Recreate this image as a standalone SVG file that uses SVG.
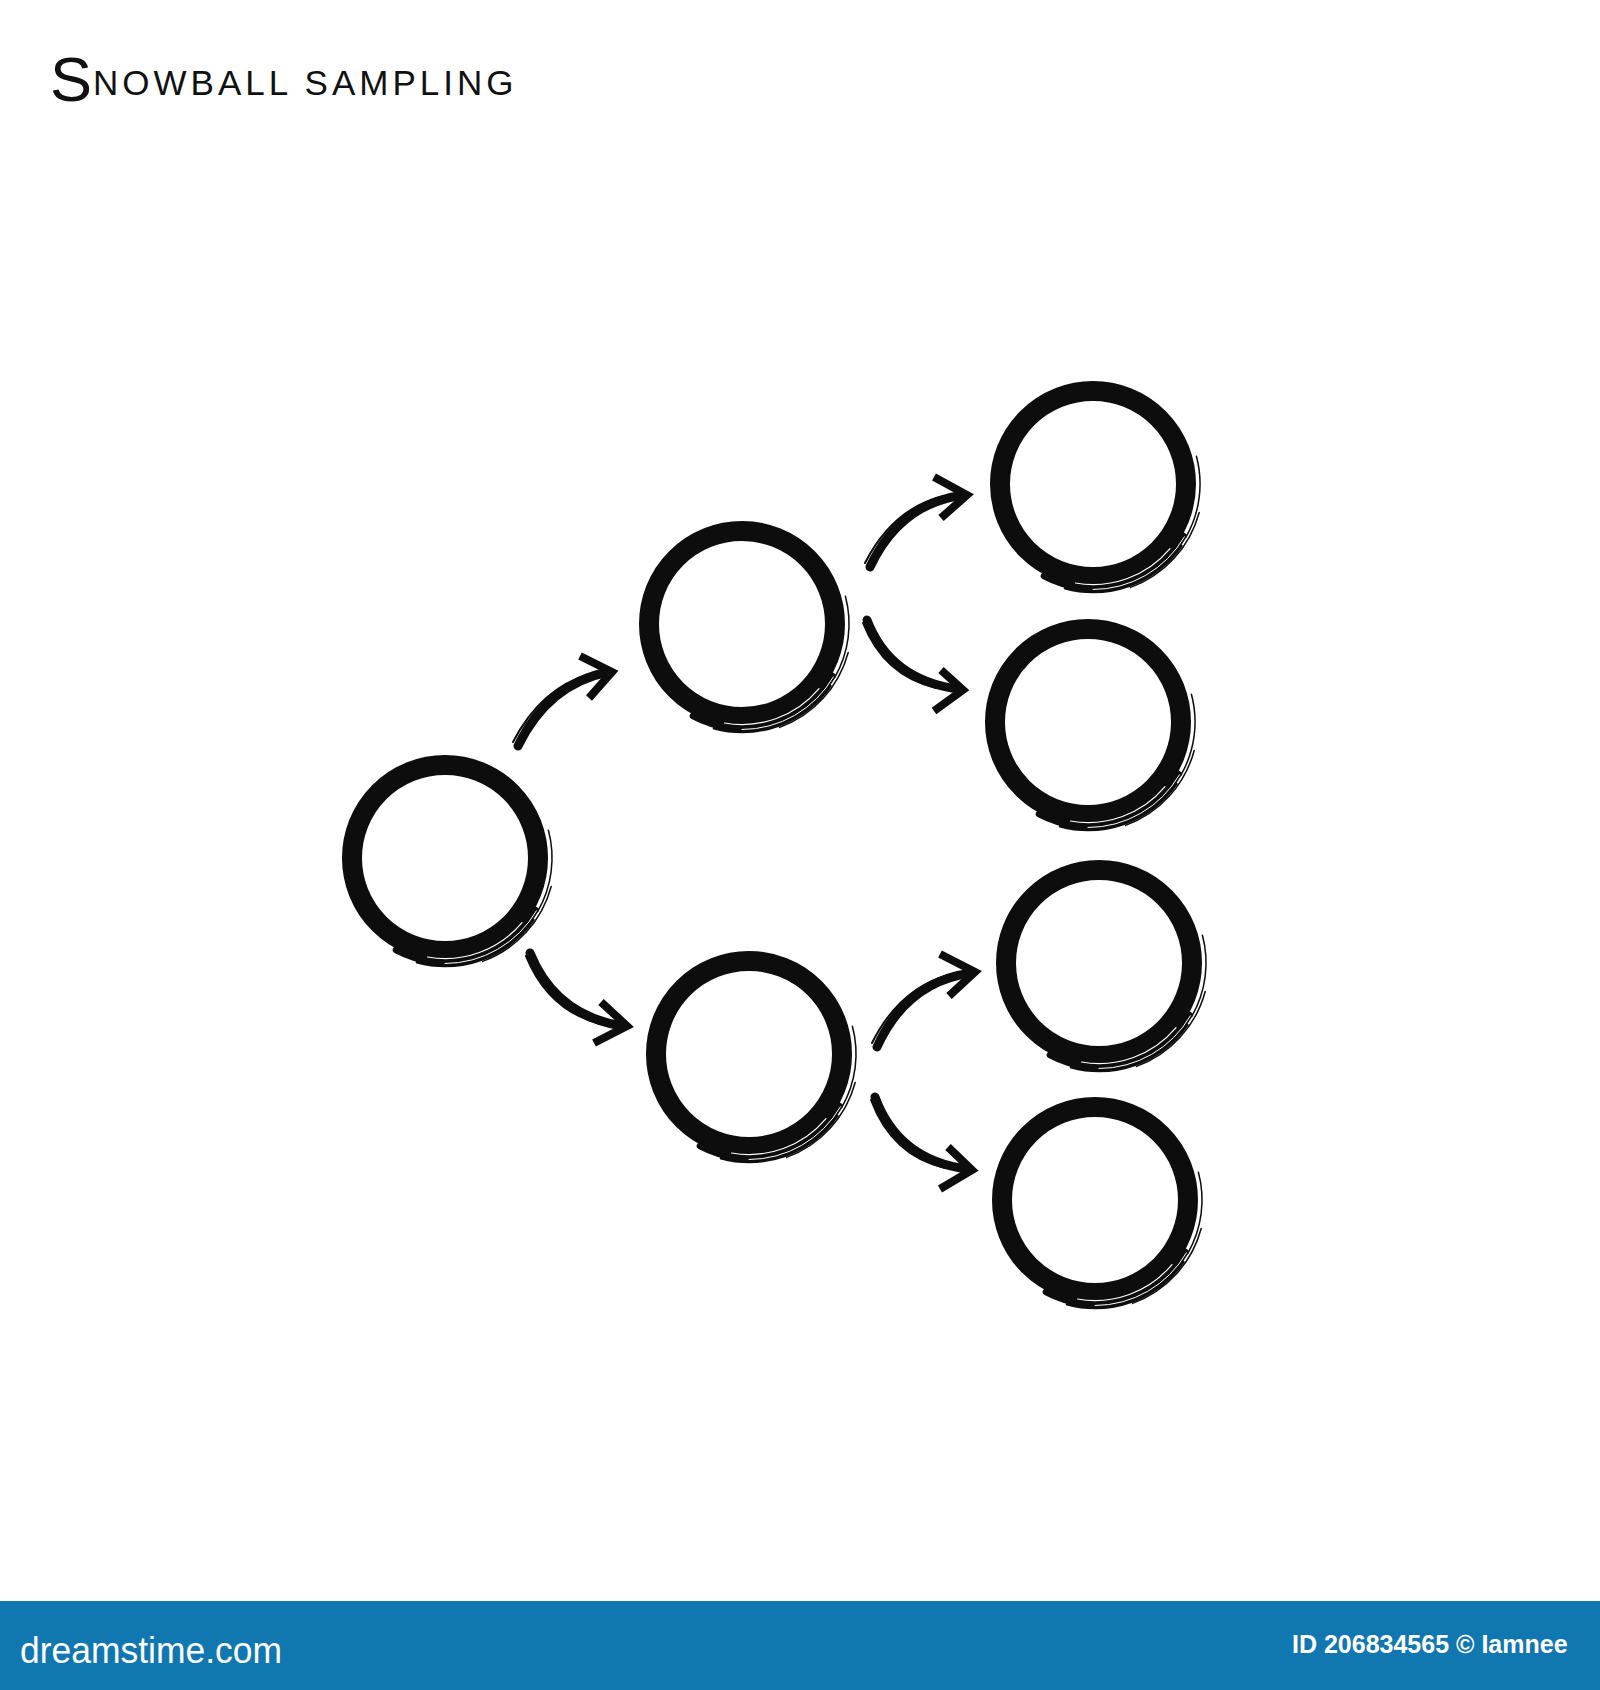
<svg xmlns="http://www.w3.org/2000/svg" xmlns:xlink="http://www.w3.org/1999/xlink" width="1600" height="1690" viewBox="0 0 1600 1690">
  <style>
    .ring { fill: none; stroke: #0d0d0d; stroke-width: 20; }
    .brush { fill: none; stroke: #0d0d0d; stroke-linecap: round; }
    .gap { fill: none; stroke: #ffffff; stroke-linecap: round; }
    .arrow { fill: none; stroke: #0d0d0d; stroke-width: 9; stroke-linecap: round; }
    .bristle { fill: none; stroke: #0d0d0d; stroke-width: 2; stroke-linecap: round; }
    .head { fill: none; stroke: #0d0d0d; stroke-width: 8; stroke-linecap: butt; stroke-linejoin: miter; }
    .title { font-family: "Liberation Sans", Arial, sans-serif; fill: #111111; }
    .logo { font-family: "Liberation Sans", Arial, sans-serif; fill: #ffffff; }
  </style>
  <defs>
    <g id="brushRing">
      <circle class="ring" cx="0" cy="0" r="93"/>
      <path class="brush" stroke-width="7" d="M90.1,52 A104,104 0 0 1 -48.8,91.8"/>
      <path class="brush" stroke-width="2.5" d="M88.5,61.9 A108,108 0 0 1 -28.0,104.3"/>
      <path class="brush" stroke-width="1.5" d="M106.2,28.5 A110,110 0 0 1 37.6,103.4"/>
      <path class="brush" stroke-width="1.5" d="M103.4,-27.7 A107,107 0 0 1 92.7,53.5"/>
      <path class="gap" stroke-width="1.2" d="M77.0,64.6 A100.5,100.5 0 0 1 -17.5,99.0"/>
      <path class="gap" stroke-width="1" d="M91.4,52.8 A105.5,105.5 0 0 1 0,105.5"/>
    </g>
  </defs>
  <rect x="0" y="0" width="1600" height="1690" fill="#ffffff"/>

  <g id="title">
    <text class="title" x="50" y="101" font-size="63">S</text>
    <text class="title" x="93" y="95" font-size="35" letter-spacing="4">NOWBALL SAMPLING</text>
  </g>

  <g id="connectors">
    <g id="a1">
      <path class="arrow" d="M518,746 Q548,684 608,672"/>
      <path class="bristle" d="M513,742 Q541,688 590,674"/>
      <path class="head" d="M580,656 L612,672 L589,698"/>
    </g>
    <g id="a2">
      <path class="arrow" d="M530,953 Q555,1015 622,1026"/>
      <path class="bristle" d="M526,956 Q548,1010 600,1024"/>
      <path class="head" d="M601,1002 L627,1026 L594,1043"/>
    </g>
    <g id="a3">
      <path class="arrow" d="M870,567 Q900,503 964,495"/>
      <path class="bristle" d="M865,563 Q893,508 944,496"/>
      <path class="head" d="M934,477 L967,495 L941,518"/>
    </g>
    <g id="a4">
      <path class="arrow" d="M867,620 Q890,680 958,689"/>
      <path class="bristle" d="M863,623 Q884,676 936,688"/>
      <path class="head" d="M941,670 L963,690 L934,711"/>
    </g>
    <g id="a5">
      <path class="arrow" d="M877,1047 Q907,981 972,973"/>
      <path class="bristle" d="M872,1043 Q900,987 952,974"/>
      <path class="head" d="M940,954 L975,972 L949,996"/>
    </g>
    <g id="a6">
      <path class="arrow" d="M875,1097 Q898,1160 967,1169"/>
      <path class="bristle" d="M871,1100 Q892,1156 945,1168"/>
      <path class="head" d="M948,1147 L972,1170 L940,1189"/>
    </g>
  </g>

  <g id="n1" transform="translate(445,858)"><use href="#brushRing" xlink:href="#brushRing"/></g>
  <g id="n2" transform="translate(742,624)"><use href="#brushRing" xlink:href="#brushRing"/></g>
  <g id="n3" transform="translate(749,1054)"><use href="#brushRing" xlink:href="#brushRing"/></g>
  <g id="n4" transform="translate(1093,484)"><use href="#brushRing" xlink:href="#brushRing"/></g>
  <g id="n5" transform="translate(1088,722)"><use href="#brushRing" xlink:href="#brushRing"/></g>
  <g id="n6" transform="translate(1099,963)"><use href="#brushRing" xlink:href="#brushRing"/></g>
  <g id="n7" transform="translate(1095,1200)"><use href="#brushRing" xlink:href="#brushRing"/></g>

  <g id="footer">
    <rect x="0" y="1601" width="1600" height="89" fill="#1177b0"/>
    <text class="logo" x="20" y="1663" font-size="36" textLength="262" lengthAdjust="spacingAndGlyphs">dreamstime.com</text>
    <text class="logo" x="1292" y="1653" font-size="25" font-weight="bold">ID 206834565 © Iamnee</text>
  </g>
</svg>
